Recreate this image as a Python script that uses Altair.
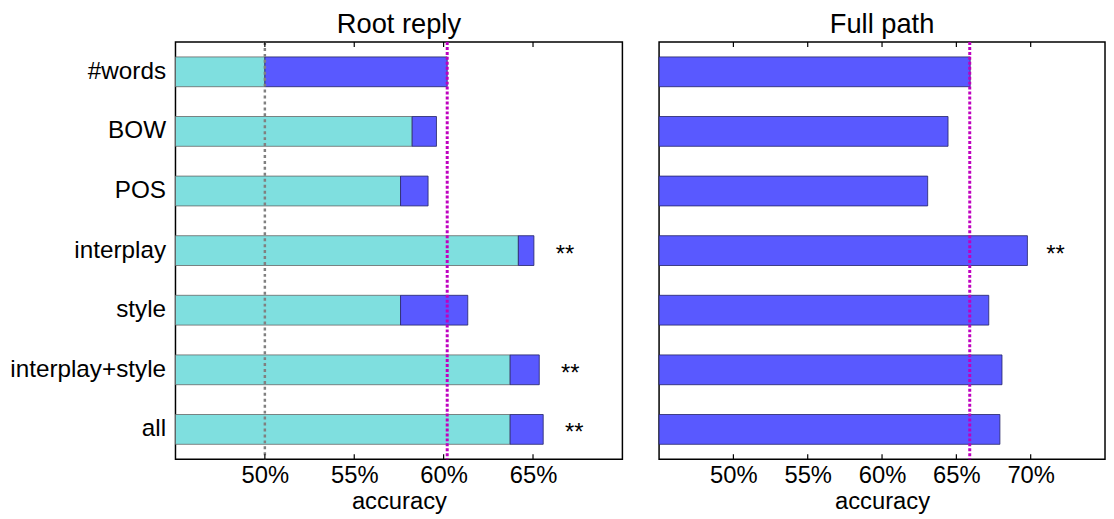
import altair as alt
import pandas as pd

features = ["#words", "BOW", "POS", "interplay", "style", "interplay+style", "all"]
root_base = [50.0, 58.24, 57.59, 64.18, 57.59, 63.72, 63.72]
root_full = [60.2, 59.6, 59.13, 65.05, 61.35, 65.35, 65.57]
path_acc = [65.93, 64.44, 63.07, 69.78, 67.18, 68.07, 67.93]
root_sig = ["", "", "", "**", "", "**", "**"]
path_sig = ["", "", "", "**", "", "", ""]
root_ref = 60.2
path_ref = 65.9
chance = 50.0
root_ticks = [50, 55, 60, 65]
path_ticks = [50, 55, 60, 65, 70]
root_domain = [45, 70]
path_domain = [45, 75]

FONT = "Liberation Sans"
CYAN = "#7fdfdf"
BLUE = "#5959ff"
MAGENTA = "#bf00bf"
W = 451
H = 421
FS = 24
TFS = 27.5

root_df = pd.DataFrame({"feature": features, "base": root_base, "full": root_full, "sig": root_sig})
path_df = pd.DataFrame({"feature": features, "acc": path_acc, "sig": path_sig})

yscale = alt.Scale(domain=features, paddingInner=0.5, paddingOuter=0.25)


def xaxis(ticks):
    return alt.Axis(values=ticks, labelExpr="datum.value + '%'", title="accuracy",
                    grid=False, ticks=False, domain=False, labelFontSize=FS,
                    titleFontSize=FS, titleFontWeight="normal", labelPadding=5,
                    titlePadding=2, labelColor="black", titleColor="black", labelFont=FONT,
                    titleFont=FONT)


def tick_layers(ticks, domain):
    tdf = pd.DataFrame({"t": ticks})
    sc = alt.Scale(domain=domain, nice=False, zero=False)
    top = alt.Chart(tdf).mark_rule(color="black", strokeWidth=1.2).encode(
        x=alt.X("t:Q", scale=sc), y=alt.value(0), y2=alt.value(5))
    bot = alt.Chart(tdf).mark_rule(color="black", strokeWidth=1.2).encode(
        x=alt.X("t:Q", scale=sc), y=alt.value(H - 5), y2=alt.value(H))
    return [top, bot]


rsc = alt.Scale(domain=root_domain, nice=False, zero=False)
psc = alt.Scale(domain=path_domain, nice=False, zero=False)

ybase = alt.Y("feature:N", scale=yscale, sort=features,
              axis=alt.Axis(title=None, ticks=False, domain=False, labelFontSize=24.5,
                            labelPadding=10, labelColor="black", labelFont=FONT))
yplain = alt.Y("feature:N", scale=yscale, sort=features)

rb = alt.Chart(root_df)
root_cyan = rb.mark_bar(color=CYAN, stroke="#666666", strokeWidth=0.8).encode(
    x=alt.X("base:Q", scale=rsc, axis=xaxis(root_ticks)), x2=alt.datum(root_domain[0]), y=ybase)
root_blue = rb.mark_bar(color=BLUE, stroke="#222266", strokeWidth=0.8).encode(
    x=alt.X("base:Q", scale=rsc), x2="full:Q", y=yplain)
root_sigt = rb.mark_text(align="left", baseline="middle", fontSize=24, dx=22, dy=4, font=FONT,
                         color="black").encode(
    x=alt.X("full:Q", scale=rsc), y=yplain, text="sig:N")
root_chance = alt.Chart(pd.DataFrame({"v": [chance]})).mark_rule(
    color="#808080", strokeWidth=2.5, strokeDash=[3, 3]).encode(x=alt.X("v:Q", scale=rsc))
root_refl = alt.Chart(pd.DataFrame({"v": [root_ref]})).mark_rule(
    color=MAGENTA, strokeWidth=3, strokeDash=[3, 2]).encode(x=alt.X("v:Q", scale=rsc))

left = alt.layer(root_cyan, root_blue, root_chance, root_refl, root_sigt,
                 *tick_layers(root_ticks, root_domain)).properties(
    width=W, height=H,
    title=alt.TitleParams("Root reply", fontSize=TFS, fontWeight="normal", font=FONT, offset=2,
                          color="black"))

pb = alt.Chart(path_df)
path_blue = pb.mark_bar(color=BLUE, stroke="#222266", strokeWidth=0.8).encode(
    x=alt.X("acc:Q", scale=psc, axis=xaxis(path_ticks)), x2=alt.datum(path_domain[0]),
    y=alt.Y("feature:N", scale=yscale, sort=features, axis=None))
path_sigt = pb.mark_text(align="left", baseline="middle", fontSize=24, dx=19, dy=4, font=FONT,
                         color="black").encode(
    x=alt.X("acc:Q", scale=psc), y=yplain, text="sig:N")
path_refl = alt.Chart(pd.DataFrame({"v": [path_ref]})).mark_rule(
    color=MAGENTA, strokeWidth=3, strokeDash=[3, 2]).encode(x=alt.X("v:Q", scale=psc))

right = alt.layer(path_blue, path_refl, path_sigt, *tick_layers(path_ticks, path_domain)).properties(
    width=W - 1, height=H,
    title=alt.TitleParams("Full path", fontSize=TFS, fontWeight="normal", font=FONT, offset=2,
                          color="black"))

chart = alt.hconcat(left, right, spacing=34).resolve_scale(
    x="independent", y="independent").configure(font=FONT).configure_view(
    stroke="black", strokeWidth=1.5).properties(padding=0)

chart.save("out.html", embed_options={"renderer": "svg", "actions": False})
